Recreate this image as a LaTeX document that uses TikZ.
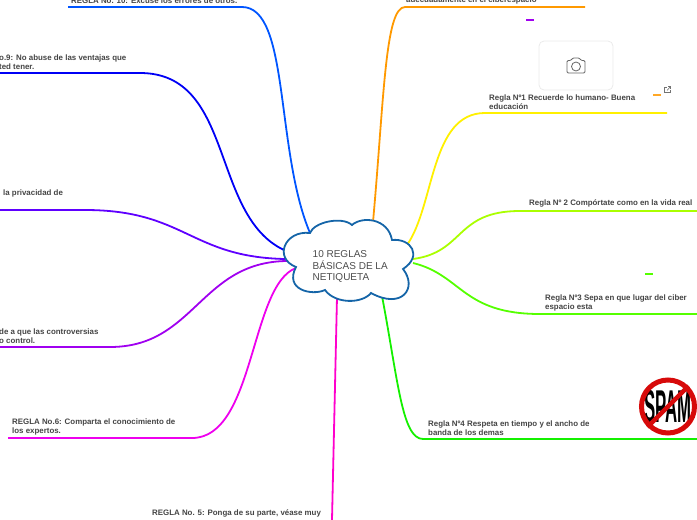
\documentclass[tikz,border=0pt]{standalone}
\usepackage{fontspec}
\setmainfont{Liberation Sans}
\usetikzlibrary{positioning, calc}
\definecolor{netBlueA}{RGB}{0, 85, 255}
\definecolor{netBlueB}{RGB}{0, 0, 245}
\definecolor{netVioletA}{RGB}{95, 0, 255}
\definecolor{netVioletB}{RGB}{160, 0, 240}
\definecolor{netMagentaA}{RGB}{238, 0, 238}
\definecolor{netMagentaB}{RGB}{255, 0, 204}
\definecolor{netOrange}{RGB}{255, 153, 0}
\definecolor{netYellow}{RGB}{255, 240, 0}
\definecolor{netLime}{RGB}{170, 255, 0}
\definecolor{netGreenA}{RGB}{85, 255, 0}
\definecolor{netGreenB}{RGB}{20, 240, 0}
\definecolor{netCloud}{RGB}{21, 101, 168}
\definecolor{netText}{RGB}{68, 68, 68}
\definecolor{netRed}{RGB}{215, 10, 10}

\begin{document}
\begin{tikzpicture}[
        x=1pt, y=-1pt,
        branch/.style={line width=1.8pt},
        rulelabel/.style={anchor=south west, inner sep=0pt, align=left, text=netText, font=\fontsize{7.9}{9}\selectfont\bfseries},
        roottext/.style={anchor=west, inner sep=0pt, align=left, text=black!70, font=\fontsize{10}{11.5}\selectfont},
        tick/.style={rectangle, inner sep=0pt, minimum width=8pt, minimum height=1.6pt},
        photobox/.style={rectangle, draw=black!8, fill=white, rounded corners=5pt, line width=0.8pt, minimum width=74pt, minimum height=49pt}
    ]
        \useasboundingbox (0,0) rectangle (697,520);

        % Attach points on the cloud
        \coordinate (c10) at (310,233);
        \coordinate (c9) at (284,250);
        \coordinate (c8) at (285,259);
        \coordinate (c7) at (287,261);
        \coordinate (c6) at (296,268);
        \coordinate (c5) at (337,297);
        \coordinate (c0) at (373,222);
        \coordinate (c1) at (407,245);
        \coordinate (c2) at (413,259);
        \coordinate (c3) at (413,263);
        \coordinate (c4) at (382,296);

        % Branch ends
        \coordinate (e10) at (68,7);
        \coordinate (e9) at (0,73);
        \coordinate (e8) at (0,210);
        \coordinate (e7) at (0,347);
        \coordinate (e6) at (8,438);
        \coordinate (e5) at (332,520);
        \coordinate (e0) at (585,7);
        \coordinate (e1) at (667,113);
        \coordinate (e2) at (697,211);
        \coordinate (e3) at (697,314);
        \coordinate (e4) at (697,439);

        % Branches
        \draw[branch, netBlueA] (c10) .. controls (275,150) and (290,7) .. (242,7) -- (e10);
        \draw[branch, netBlueB] (c9) .. controls (210,215) and (235,73) .. (140,73) -- (e9);
        \draw[branch, netVioletA] (c8) .. controls (190,257) and (185,210) .. (85,210) -- (e8);
        \draw[branch, netVioletB] (c7) .. controls (200,262) and (195,347) .. (110,347) -- (e7);
        \draw[branch, netMagentaA] (c6) .. controls (250,285) and (255,438) .. (192,438) -- (e6);
        \draw[branch, netMagentaB] (c5) -- (e5);
        \draw[branch, netOrange] (c0) .. controls (384,100) and (385,7) .. (405,7) -- (e0);
        \draw[branch, netYellow] (c1) .. controls (435,205) and (430,113) .. (485,113) -- (e1);
        \draw[branch, netLime] (c2) .. controls (465,252) and (455,211) .. (520,211) -- (e2);
        \draw[branch, netGreenA] (c3) .. controls (462,275) and (462,314) .. (540,314) -- (e3);
        \draw[branch, netGreenB] (c4) .. controls (398,380) and (402,439) .. (423,439) -- (e4);

        % Cloud
        \draw[line width=1.8pt, netCloud, fill=white] (310,233)
            .. controls (314,222) and (342,216) .. (352,225)
            .. controls (362,216) and (388,218) .. (392,240)
            .. controls (411,238) and (423,256) .. (403,269)
            .. controls (418,288) and (402,310) .. (371,293)
            .. controls (362,304) and (335,304) .. (325,290)
            .. controls (312,296) and (284,290) .. (296,267)
            .. controls (273,258) and (285,230) .. (310,233) -- cycle;
        \node[roottext] (root) at (312.5,266.5) {10 REGLAS\\BÁSICAS DE LA\\NETIQUETA};

        % Rules
        \node[rulelabel] (r10) at (71,4) {REGLA No. 10: Excuse los errores de otros.};
        \node[rulelabel] (r9) at (-1,70) {o.9: No abuse de las ventajas que\\ted tener.};
        \node[rulelabel] (r8) at (3,197) {la privacidad de};
        \node[rulelabel] (r7) at (-1,344) {de a que las controversias\\o control.};
        \node[rulelabel] (r6) at (12,435) {REGLA No.6: Comparta el conocimiento de\\los expertos.};
        \node[rulelabel] (r5) at (152,517) {REGLA No. 5: Ponga de su parte, véase muy};
        \node[rulelabel] (r0) at (406,4) {adecuadamente en el ciberespacio};
        \node[rulelabel] (r1) at (489,110) {Regla Nº1 Recuerde lo humano- Buena\\educación};
        \node[rulelabel] (r2) at (529,207.5) {Regla Nº 2 Compórtate como en la vida real};
        \node[rulelabel] (r3) at (545,311) {Regla Nº3 Sepa en que lugar del ciber\\espacio esta};
        \node[rulelabel] (r4) at (428,436) {Regla Nº4 Respeta en tiempo y el ancho de\\banda de los demas};

        % Small marks
        \node[tick, fill=netVioletB] (m1) at (530,20) {};
        \node[tick, fill=netOrange!85] (m2) at (657,95) {};
        \node[tick, fill=netGreenA] (m3) at (649,274) {};

        % Picture placeholder
        \node[photobox] (photo) at (576,65.5) {};
        \draw[black!60, line width=0.8pt, rounded corners=1.2pt, line join=round] (567,60.5) -- (571,60.5) -- (572.5,58) -- (579.5,58) -- (581,60.5) -- (585,60.5) -- (585,73) -- (567,73) -- cycle;
        \node[circle, draw=black!60, line width=0.8pt, inner sep=0pt, minimum size=9pt] (lens) at (576,66.5) {};

        % Link icon
        \draw[black!55, line width=0.6pt] (667,87) -- (664.5,87) -- (664.5,92.5) -- (670,92.5) -- (670,90);
        \draw[black!55, line width=0.6pt] (667,90.5) -- (670.5,86.5);
        \draw[black!55, line width=0.6pt] (668,86.5) -- (670.5,86.5) -- (670.5,89);

        % No spam sign
        \node[inner sep=0pt] (spam) at (668,407) {\scalebox{0.84}[2.3]{\fontsize{20}{20}\selectfont\bfseries SPAM}};
        \node[circle, draw=netRed, line width=5pt, inner sep=0pt, minimum size=53pt] (ring) at (668,406.5) {};
        \draw[netRed, line width=4.5pt] (ring.45) -- (ring.225);
    \end{tikzpicture}
\end{document}
